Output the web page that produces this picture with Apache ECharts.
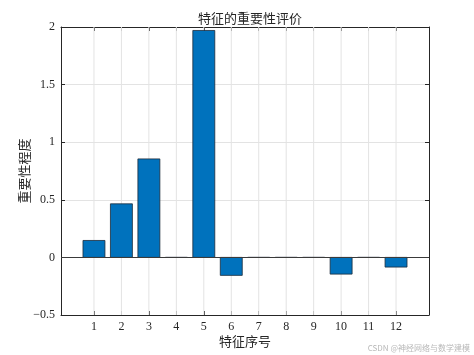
<!DOCTYPE html>
<html><head><meta charset="utf-8">
<script src="https://cdn.jsdelivr.net/npm/echarts@6/dist/echarts.min.js"></script>
<style>html,body{margin:0;padding:0;background:#fff}#chart{width:474px;height:355px}</style>
</head><body><div id="chart"></div>
<script>
// Feature numbers and their importance scores
const featureIds = [1, 2, 3, 4, 5, 6, 7, 8, 9, 10, 11, 12];
const importance = [0.147, 0.465, 0.855, 0, 1.97, -0.156, 0, 0, 0, -0.145, 0, -0.084];
const yMin = -0.5, yMax = 2, yStep = 0.5;
const xMin = -0.2, xMax = 13.2;
const barHalfWidth = 0.4;

const numFont = '"Liberation Serif", "DejaVu Serif", serif';
const cjkFont = '"Noto Sans CJK SC", sans-serif';
const ink = '#262626';
const gridColor = '#e3e3e3';

const chart = echarts.init(document.getElementById('chart'), null, {renderer: 'canvas'});

const barData = featureIds.map((id, i) => [id, importance[i]]);
const gridData = featureIds.map(id => [id]);

const commonX = {
  type: 'value', min: xMin, max: xMax,
  axisLine: {show: true, onZero: false, lineStyle: {color: ink, width: 1}},
  splitLine: {show: false}
};
const commonY = {
  type: 'value', min: yMin, max: yMax, interval: yStep,
  axisLine: {show: true, onZero: false, lineStyle: {color: ink, width: 1}},
  axisTick: {show: true, inside: true, length: 4, lineStyle: {color: ink}}
};

chart.setOption({
  backgroundColor: '#fff',
  animation: false,
  title: {
    text: '特征的重要性评价', left: 245, top: 7, textAlign: 'center',
    textStyle: {fontFamily: cjkFont, fontSize: 13, fontWeight: 'normal', color: ink}
  },
  grid: {left: 61, top: 27, right: 45, bottom: 40, containLabel: false, outerBoundsMode: 'none'},
  xAxis: [
    Object.assign({}, commonX, {
      position: 'bottom',
      name: '特征序号', nameLocation: 'middle', nameGap: 20, nameMoveOverlap: false,
      nameTextStyle: {fontFamily: cjkFont, fontSize: 13, color: ink},
      axisTick: {show: true, inside: true, length: 4, customValues: featureIds, lineStyle: {color: ink}},
      axisLabel: {show: true, customValues: featureIds, margin: 6, fontFamily: numFont, fontSize: 12, color: ink}
    }),
    Object.assign({}, commonX, {
      position: 'top',
      axisTick: {show: true, inside: true, length: 4, customValues: featureIds, lineStyle: {color: ink}},
      axisLabel: {show: false}
    })
  ],
  yAxis: [
    Object.assign({}, commonY, {
      position: 'left',
      name: '重要性程度', nameLocation: 'middle', nameGap: 30, nameMoveOverlap: false,
      nameTextStyle: {fontFamily: cjkFont, fontSize: 13, color: ink},
      axisLabel: {
        show: true, margin: 6, fontFamily: numFont, fontSize: 12, color: ink,
        formatter: v => (v < 0 ? '\u2212' + Math.abs(v) : String(v))
      },
      splitLine: {show: true, lineStyle: {color: gridColor, width: 1}}
    }),
    Object.assign({}, commonY, {
      position: 'right',
      axisLabel: {show: false},
      splitLine: {show: false}
    })
  ],
  series: [
    {
      // vertical grid lines at each feature number
      type: 'custom', z: 1, silent: true,
      xAxisIndex: 0, yAxisIndex: 0,
      data: gridData,
      renderItem(params, api) {
        const x = api.value(0);
        const a = api.coord([x, yMin]);
        const b = api.coord([x, yMax]);
        return {type: 'line', shape: {x1: a[0], y1: a[1], x2: b[0], y2: b[1]},
                style: {stroke: gridColor, lineWidth: 1}};
      }
    },
    {
      type: 'custom', z: 3,
      xAxisIndex: 0, yAxisIndex: 0,
      data: barData,
      encode: {x: 0, y: 1},
      renderItem(params, api) {
        const x = api.value(0), y = api.value(1);
        const p1 = api.coord([x - barHalfWidth, y]);
        const p2 = api.coord([x + barHalfWidth, 0]);
        return {
          type: 'rect',
          shape: {x: p1[0], y: Math.min(p1[1], p2[1]), width: p2[0] - p1[0], height: Math.abs(p2[1] - p1[1])},
          style: {fill: '#0072BD', stroke: '#1c2b3a', lineWidth: 0.8}
        };
      },
      markLine: {
        silent: true, symbol: 'none', z: 4,
        label: {show: false},
        lineStyle: {color: '#3a3a3a', width: 1, type: 'solid'},
        data: [{yAxis: 0}]
      }
    }
  ],
  graphic: [{
    type: 'text', right: 4, bottom: 3,
    style: {text: 'CSDN @神经网络与数学建模', fontFamily: cjkFont, fontSize: 8, fill: '#b8b8b8'}
  }]
});
</script>
</body></html>
